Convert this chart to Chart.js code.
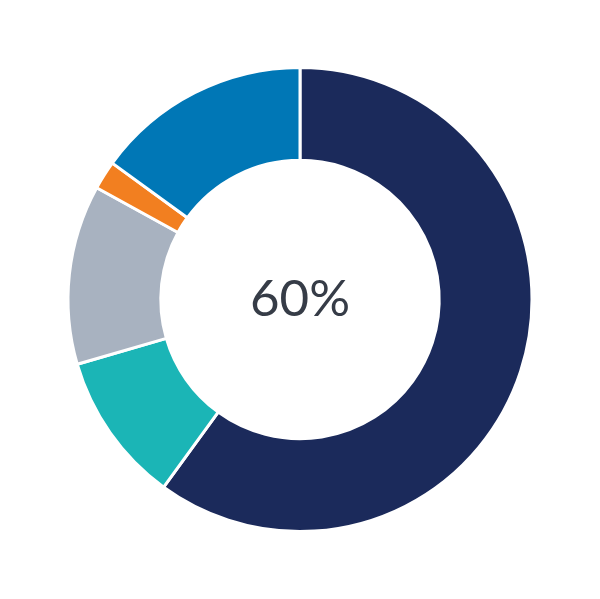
<!DOCTYPE html>
<html>
<head>
<meta charset="utf-8">
<script src="https://cdn.jsdelivr.net/npm/chart.js@4"></script>
<style>
  html, body { margin: 0; padding: 0; background: #fff; }
  #wrap { width: 600px; height: 599px; }
</style>
</head>
<body>
<div id="wrap"><canvas id="donut"></canvas></div>
<script>
// --- Chart data ---
const labels = ['Navy', 'Teal', 'Gray', 'Orange', 'Blue'];
const values = [60, 10.5, 12.5, 2, 15];
const colors = ['#1b2a5b', '#1bb5b6', '#a8b2c0', '#f27f20', '#0077b6'];
const centerLabel = '60%';

// draws the big label in the hole
const centerText = {
    id: 'centerText',
    afterDraw(chart) {
        const meta = chart.getDatasetMeta(0).data[0];
        if (!meta) return;
        const ctx = chart.ctx;
        ctx.save();
        ctx.font = '51px Lato';
        ctx.fillStyle = '#363c47';
        ctx.textAlign = 'center';
        ctx.textBaseline = 'middle';
        ctx.fillText(centerLabel, meta.x, meta.y);
        ctx.restore();
    }
};

new Chart(document.getElementById('donut').getContext('2d'), {
    type: 'doughnut',
    data: {
        labels: labels,
        datasets: [{
            data: values,
            backgroundColor: colors,
            borderColor: '#ffffff',
            borderWidth: 3
        }]
    },
    options: {
        responsive: true,
        maintainAspectRatio: false,
        animation: false,
        cutout: '60%',
        layout: { padding: 66 },
        plugins: {
            legend: { display: false },
            tooltip: { enabled: false }
        }
    },
    plugins: [centerText]
});
</script>
</body>
</html>
